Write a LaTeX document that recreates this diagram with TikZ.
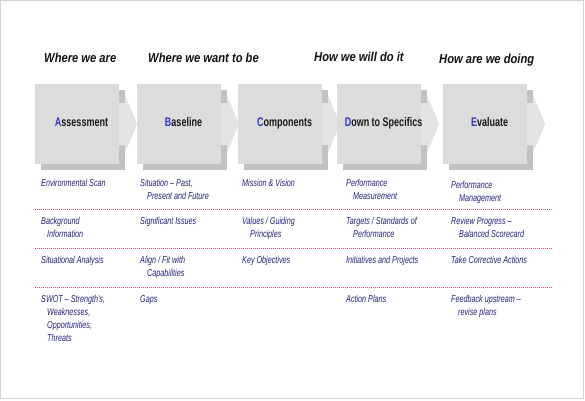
\documentclass[tikz,border=0pt]{standalone}
\usepackage{fontspec}
\setmainfont{Liberation Sans}
\newfontfamily\hdrfont[FakeStretch=0.86]{Liberation Sans}
\newfontfamily\lblfont[FakeStretch=0.72]{Liberation Sans}
\newfontfamily\lstfont[FakeStretch=0.72]{Liberation Sans}
\definecolor{frontc}{HTML}{DCDCDC}
\definecolor{shadowc}{HTML}{C2C2C2}
\definecolor{arrowc}{HTML}{E4E4E4}
\definecolor{framec}{HTML}{D4D4D4}
\definecolor{hdrc}{HTML}{111111}
\definecolor{lblc}{HTML}{1A1A1A}
\definecolor{initc}{HTML}{3333CC}
\definecolor{lstc}{HTML}{22227A}
\definecolor{dotc}{HTML}{D8406A}
\newcommand\ind{\hspace*{7pt}}
\newcommand\cellt[1]{\begin{tabular}[t]{@{}l@{}}#1\end{tabular}}
\tikzset{
  hdr/.style={anchor=base west,inner sep=0pt,text=hdrc,font=\hdrfont\fontsize{13}{15}\selectfont\bfseries\itshape},
  frontbox/.style={fill=frontc,draw=none,anchor=north west,minimum width=84pt,minimum height=80pt,inner sep=0pt},
  lbl/.style={inner sep=0pt,text=lblc,font=\lblfont\fontsize{12.5}{14}\selectfont\bfseries},
  lst/.style={anchor=base west,inner sep=0pt,text=lstc,font=\lstfont\fontsize{10}{13}\selectfont\itshape},
  sep/.style={dotc,line width=1pt,dash pattern=on 1pt off 1pt}
}
\begin{document}
\begin{tikzpicture}[x=1pt,y=-1pt]
\useasboundingbox (0,0) rectangle (585,400);
\fill[white] (0,0) rectangle (585,400);
\draw[framec,line width=1pt] (0.5,0.5) rectangle (583.5,398.5);
% headers
\node[hdr] (h1) at (44,62) {Where we are};
\node[hdr] (h2) at (148,62) {Where we want to be};
\node[hdr] (h3) at (314,61) {How we will do it};
\node[hdr] (h4) at (439,63) {How are we doing};
% boxes
\foreach \L/\n/\a/\r in {35/b1/A/ssessment,137/b2/B/aseline,238/b3/C/omponents,337/b4/D/own to Specifics,443/b5/E/valuate}{
  \fill[shadowc] ({\L+6},90) rectangle ({\L+90},170);
  \fill[arrowc] ({\L+60},103) -- ({\L+90},103) -- ({\L+90},95) -- ({\L+102},124) -- ({\L+90},153) -- ({\L+90},145) -- ({\L+60},145) -- cycle;
  \node[frontbox] (\n) at (\L,84) {};
  \node[lbl,anchor=base] (\n t) at ({\L+46.5},126) {\textcolor{initc}{\a}\r};
}
% separators
\draw[sep] (35,209) -- (553,209);
\draw[sep] (35,248) -- (553,248);
\draw[sep] (35,287) -- (553,287);
% column 1
\node[lst] (c11) at (41,186) {\cellt{Environmental Scan}};
\node[lst] (c12) at (41,224) {\cellt{Background\\\hspace*{6pt}Information}};
\node[lst] (c13) at (41,263) {\cellt{Situational Analysis}};
\node[lst] (c14) at (41,302) {\cellt{SWOT – Strength's,\\\hspace*{6pt}Weaknesses,\\\hspace*{6pt}Opportunities,\\\hspace*{6pt}Threats}};
% column 2
\node[lst] (c21) at (140,186) {\cellt{Situation – Past,\\\ind Present and Future}};
\node[lst] (c22) at (140,224) {\cellt{Significant Issues}};
\node[lst] (c23) at (140,263) {\cellt{Align / Fit with\\\ind Capabilities}};
\node[lst] (c24) at (140,302) {\cellt{Gaps}};
% column 3
\node[lst] (c31) at (242,186) {\cellt{Mission \& Vision}};
\node[lst] (c32) at (242,224) {\cellt{Values / Guiding\\\hspace*{8pt}Principles}};
\node[lst] (c33) at (242,263) {\cellt{Key Objectives}};
% column 4
\node[lst] (c41) at (346,186) {\cellt{Performance\\\ind Measurement}};
\node[lst] (c42) at (346,224) {\cellt{Targets / Standards of\\\ind Performance}};
\node[lst] (c43) at (346,263) {\cellt{Initiatives and Projects}};
\node[lst] (c44) at (346,302) {\cellt{Action Plans}};
% column 5
\node[lst] (c51) at (451,188) {\cellt{Performance\\\hspace*{8pt}Management}};
\node[lst] (c52) at (451,224) {\cellt{Review Progress –\\\hspace*{8pt}Balanced Scorecard}};
\node[lst] (c53) at (451,263) {\cellt{Take Corrective Actions}};
\node[lst] (c54) at (451,302) {\cellt{Feedback upstream –\\\ind revise plans}};
\end{tikzpicture}
\end{document}
